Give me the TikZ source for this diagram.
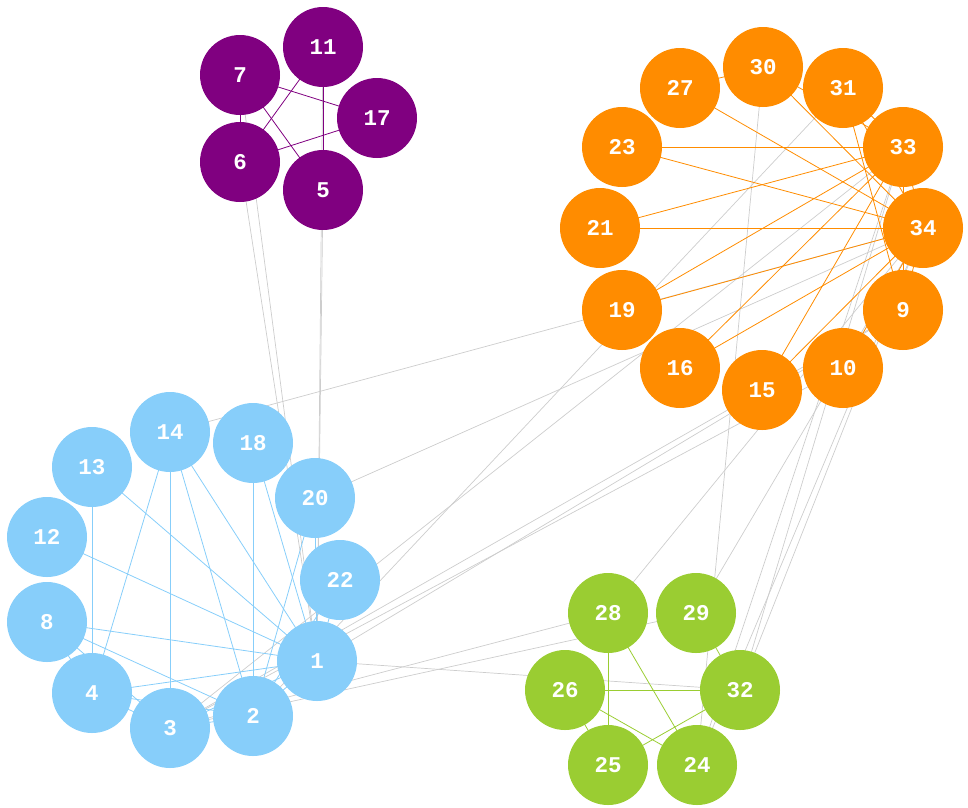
\documentclass[tikz,border=0pt]{standalone}
\usepackage{fontspec}
\newfontfamily\numfont{Liberation Mono}
\usetikzlibrary{backgrounds}
\definecolor{cblue}{RGB}{135,206,250}
\definecolor{cpurple}{RGB}{128,0,128}
\definecolor{corange}{RGB}{255,140,0}
\definecolor{cgreen}{RGB}{154,205,50}
\definecolor{cgray}{RGB}{205,205,205}
\tikzset{
  vtx/.style={circle, minimum size=80pt, inner sep=0pt, text=white, font=\numfont\bfseries\fontsize{22.5}{22.5}\selectfont},
  vb/.style={vtx, fill=cblue},
  vp/.style={vtx, fill=cpurple},
  vo/.style={vtx, fill=corange},
  vg/.style={vtx, fill=cgreen},
  eb/.style={draw=cblue, line width=0.8pt},
  ep/.style={draw=cpurple, line width=0.8pt},
  eo/.style={draw=corange, line width=0.8pt},
  eg/.style={draw=cgreen, line width=0.8pt},
  ex/.style={draw=cgray, line width=0.7pt},
}
\begin{document}
\begin{tikzpicture}[x=1pt,y=-1pt]
\useasboundingbox (0,0) rectangle (968,807);
% purple
\node[vp] (n11) at (323,47) {11};
\node[vp] (n7) at (240,75) {7};
\node[vp] (n17) at (377,118) {17};
\node[vp] (n6) at (240,162) {6};
\node[vp] (n5) at (323,190) {5};
% orange
\node[vo] (n30) at (763,67) {30};
\node[vo] (n27) at (680,88) {27};
\node[vo] (n31) at (843,88) {31};
\node[vo] (n23) at (622,147) {23};
\node[vo] (n33) at (903,147) {33};
\node[vo] (n21) at (600,228) {21};
\node[vo] (n34) at (923,228) {34};
\node[vo] (n19) at (622,310) {19};
\node[vo] (n9) at (903,310) {9};
\node[vo] (n16) at (680,368) {16};
\node[vo] (n10) at (843,368) {10};
\node[vo] (n15) at (762,390) {15};
% blue
\node[vb] (n14) at (170,432) {14};
\node[vb] (n18) at (253,443) {18};
\node[vb] (n13) at (92,467) {13};
\node[vb] (n20) at (315,498) {20};
\node[vb] (n12) at (47,537) {12};
\node[vb] (n22) at (340,580) {22};
\node[vb] (n8) at (47,622) {8};
\node[vb] (n1) at (317,661) {1};
\node[vb] (n4) at (92,693) {4};
\node[vb] (n2) at (253,716) {2};
\node[vb] (n3) at (170,728) {3};
% green
\node[vg] (n28) at (608,613) {28};
\node[vg] (n29) at (696,613) {29};
\node[vg] (n26) at (565,690) {26};
\node[vg] (n32) at (740,690) {32};
\node[vg] (n25) at (608,765) {25};
\node[vg] (n24) at (697,765) {24};
\begin{scope}[on background layer]
% gray inter-community edges
\foreach \a/\b in {1/5,1/6,1/7,1/11,1/9,1/32,2/31,3/9,3/10,3/28,3/29,3/33,14/34,20/34,24/30,24/33,24/34,28/34,29/34,32/33,32/34}
  \draw[ex] (n\a.center) -- (n\b.center);
% blue
\foreach \a/\b in {1/2,1/3,1/4,1/8,1/12,1/13,1/14,1/18,1/20,1/22,2/3,2/4,2/8,2/14,2/18,2/20,2/22,3/4,3/8,3/14,4/8,4/13,4/14}
  \draw[eb] (n\a.center) -- (n\b.center);
% purple
\foreach \a/\b in {5/7,5/11,6/7,6/11,6/17,7/17}
  \draw[ep] (n\a.center) -- (n\b.center);
% orange
\foreach \a/\b in {9/31,9/33,9/34,10/34,15/33,15/34,16/33,16/34,19/33,19/34,21/33,21/34,23/33,23/34,27/30,27/34,30/33,30/34,31/33,31/34,33/34}
  \draw[eo] (n\a.center) -- (n\b.center);
% green
\foreach \a/\b in {24/26,24/28,25/26,25/28,25/32,26/32,29/32}
  \draw[eg] (n\a.center) -- (n\b.center);
\end{scope}
\end{tikzpicture}
\end{document}
